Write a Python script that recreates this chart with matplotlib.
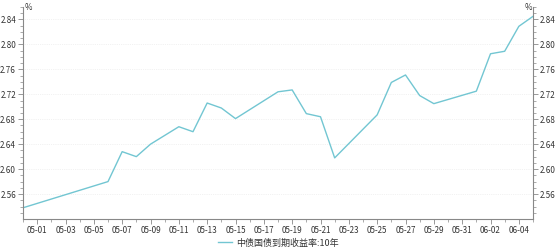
import matplotlib.pyplot as plt
import matplotlib.dates as mdates
import numpy as np
import pandas as pd

plt.rcParams['font.family'] = ['Noto Sans CJK SC', 'DejaVu Sans']

# data (2020, trading days)
dates = ["2020-04-30", "2020-05-06", "2020-05-07", "2020-05-08", "2020-05-09",
         "2020-05-11", "2020-05-12", "2020-05-13", "2020-05-14", "2020-05-15",
         "2020-05-18", "2020-05-19", "2020-05-20", "2020-05-21", "2020-05-22",
         "2020-05-25", "2020-05-26", "2020-05-27", "2020-05-28", "2020-05-29",
         "2020-06-01", "2020-06-02", "2020-06-03", "2020-06-04", "2020-06-05"]
yields = [2.538, 2.580, 2.628, 2.620, 2.640,
          2.668, 2.660, 2.706, 2.698, 2.681,
          2.724, 2.727, 2.689, 2.684, 2.618,
          2.687, 2.739, 2.751, 2.718, 2.705,
          2.725, 2.785, 2.789, 2.829, 2.845]
series_name = "中债国债到期收益率:10年"
y_ticks = [2.56, 2.60, 2.64, 2.68, 2.72, 2.76, 2.80, 2.84]

x = pd.to_datetime(dates)

fig = plt.figure(figsize=(5.58, 2.52), dpi=100)
ax = fig.add_axes([23 / 558, 1 - 219 / 252, 510 / 558, 212 / 252])

ax.plot(x, yields, color="#72c6d2", lw=1.0, label=series_name)

ax.set_xlim(x[0], x[-1])
ax.set_ylim(2.52, 2.86)

# odd days in May, even days in June
ticks = pd.date_range("2020-05-01", "2020-05-31", freq="2D").append(
    pd.date_range("2020-06-02", "2020-06-04", freq="2D"))
ax.set_xticks(ticks)
ax.xaxis.set_major_formatter(mdates.DateFormatter("%m-%d"))
ax.xaxis.set_minor_locator(mdates.DayLocator())

ax.set_yticks(y_ticks)
ax.set_yticklabels([f"{v:.2f}" for v in y_ticks])
ax.set_yticks(np.arange(2.53, 2.86, 0.01), minor=True)

ax.tick_params(axis="both", which="both", colors="#888888", labelcolor="#333333",
               labelsize=5.8, direction="out")
ax.tick_params(axis="both", which="major", length=3.5, width=0.6, pad=1.5)
ax.tick_params(axis="both", which="minor", length=2, width=0.5)
ax.tick_params(axis="y", which="both", left=True, right=True, labelleft=True, labelright=True)

for s in ["left", "right", "bottom"]:
    ax.spines[s].set_color("#888888")
    ax.spines[s].set_linewidth(0.8)
ax.spines["top"].set_visible(False)

ax.grid(axis="y", which="major", color="#e6e6e6", lw=0.5, ls=":")

fig.text(25 / 558, 1 - 8 / 252, "%", fontsize=5.8, color="#333333", ha="left", va="center")
fig.text(532 / 558, 1 - 8 / 252, "%", fontsize=5.8, color="#333333", ha="right", va="center")

ax.legend(loc="center", bbox_to_anchor=(0.5, -0.113), frameon=False,
          fontsize=6.5, handlelength=1.6, handletextpad=0.4, labelcolor="#333333",
          borderaxespad=0, borderpad=0)

fig.savefig("out.png", dpi=100, facecolor="white")
